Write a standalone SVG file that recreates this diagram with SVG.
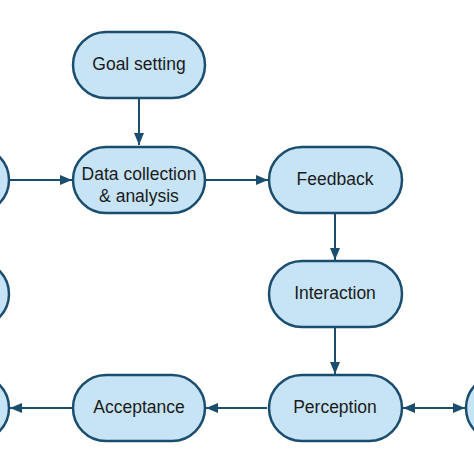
<svg xmlns="http://www.w3.org/2000/svg" width="474" height="474" viewBox="0 0 474 474">
<style>
.n rect{fill:#c6e4f6;stroke:#1a4d6e;stroke-width:2.5}
.n text{font-family:"Liberation Sans",Arial,sans-serif;font-size:17.5px;fill:#1a1a1a;text-anchor:middle}
.c line{stroke:#1a4d6e;stroke-width:2}
</style>
<defs>
<marker id="ah" viewBox="0 0 12 10" refX="12" refY="5" markerWidth="12" markerHeight="10" markerUnits="userSpaceOnUse" orient="auto-start-reverse">
<path d="M0,0 L12,5 L0,10 Z" fill="#1a4d6e"/>
</marker>
</defs>
<rect width="474" height="474" fill="#ffffff"/>
<g class="c">
<line x1="139" y1="98" x2="139" y2="145" marker-end="url(#ah)"/>
<line x1="10" y1="180" x2="72" y2="180" marker-end="url(#ah)"/>
<line x1="206" y1="180" x2="268" y2="180" marker-end="url(#ah)"/>
<line x1="335" y1="214" x2="335" y2="260" marker-end="url(#ah)"/>
<line x1="335" y1="328" x2="335" y2="374" marker-end="url(#ah)"/>
<line x1="267" y1="408" x2="206" y2="408" marker-end="url(#ah)"/>
<line x1="72" y1="408" x2="10" y2="408" marker-end="url(#ah)"/>
<line x1="403" y1="408" x2="465" y2="408" marker-start="url(#ah)" marker-end="url(#ah)"/>
</g>
<g id="node-left-top" class="n"><rect x="-124" y="147" width="133" height="66" rx="33"/></g>
<g id="node-left-mid" class="n"><rect x="-124" y="261" width="133" height="66" rx="33"/></g>
<g id="node-left-bottom" class="n"><rect x="-124" y="375" width="133" height="66" rx="33"/></g>
<g id="node-right" class="n"><rect x="466" y="375" width="133" height="66" rx="33"/></g>
<g id="goal-setting" class="n"><rect x="73" y="32" width="132" height="66" rx="33"/><text x="139" y="69.5">Goal setting</text></g>
<g id="data-collection" class="n"><rect x="73" y="147" width="132" height="66" rx="33"/><text x="139" y="180">Data collection</text><text x="139" y="202">&amp; analysis</text></g>
<g id="feedback" class="n"><rect x="269" y="147" width="133" height="66" rx="33"/><text x="335" y="184.5">Feedback</text></g>
<g id="interaction" class="n"><rect x="269" y="261" width="133" height="66" rx="33"/><text x="335" y="298.5">Interaction</text></g>
<g id="perception" class="n"><rect x="269" y="375" width="133" height="66" rx="33"/><text x="335" y="412.5">Perception</text></g>
<g id="acceptance" class="n"><rect x="73" y="375" width="132" height="66" rx="33"/><text x="139" y="412.5">Acceptance</text></g>
</svg>
